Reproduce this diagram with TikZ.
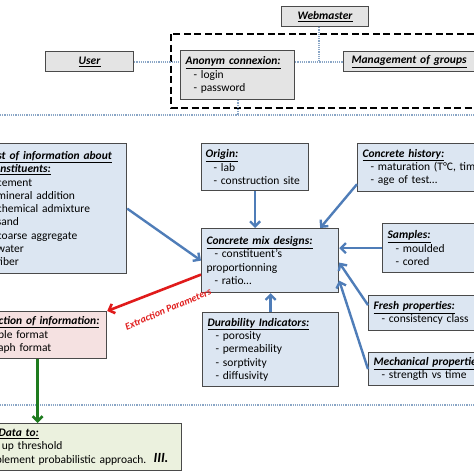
\documentclass[tikz,border=0pt]{standalone}
\usepackage{fontspec}
\setmainfont{Carlito}
\usepackage[svgnames, dvipsnames]{xcolor}
\usetikzlibrary{calc, arrows.meta}

\definecolor{BoxLine}{HTML}{4A4A4A}
\definecolor{GreyFill}{HTML}{E4E4E4}
\definecolor{BlueFill}{HTML}{DCE6F2}
\definecolor{PinkFill}{HTML}{F5E1E1}
\definecolor{GreenFill}{HTML}{EBF1DE}
\definecolor{LinkBlue}{HTML}{4F7DB8}
\definecolor{DotBlue}{HTML}{8AA6C6}
\definecolor{ExtractRed}{HTML}{E01B1B}
\definecolor{DataGreen}{HTML}{1E7B1E}

\newcommand{\boxhead}[1]{\underline{\textbf{\textit{#1}}}}
\newcommand{\lineitem}[1]{\hspace*{8pt}- #1}

\tikzset{
  box/.style={draw=BoxLine, line width=1.2pt, anchor=north west, inner xsep=5pt, inner ysep=2pt,
    align=left, font=\fontsize{11.5}{13.3}\selectfont},
  greybox/.style={box, fill=GreyFill},
  bluebox/.style={box, fill=BlueFill},
  link/.style={draw=LinkBlue, line width=2.4pt, -{Straight Barb[length=5pt, width=10pt]}},
  dotlink/.style={draw=DotBlue, line width=2pt, dash pattern=on 1.2pt off 1pt},
}

\begin{document}
\begin{tikzpicture}[x=1pt, y=-1pt]
    \useasboundingbox (0,0) rectangle (474,474);
    \clip (0,0) rectangle (474,474);
    % access part
    \draw[line width=1.6pt, dash pattern=on 7pt off 3.5pt] (171,34) rectangle (490,108);
    \node[greybox, align=center, text width=77pt, minimum height=20pt] (webmaster) at (281,6) {\boxhead{Webmaster}};
    \node[greybox, align=center, text width=78pt, minimum height=20pt] (user) at (45,51) {\boxhead{User}};
    \node[greybox, text width=104pt, minimum height=49pt] (anonym) at (180,50)
        {\boxhead{Anonym connexion:}\\ \lineitem{login}\\ \lineitem{password}};
    \node[greybox, align=center, text width=121pt, minimum height=20pt] (groups) at (343,51) {\boxhead{Management of groups}};
    \coordinate (railA1) at (0,115);
    \coordinate (railA2) at (474,115);
    \draw[dotlink] (user.east) -- (user.east -| anonym.west);
    \draw[dotlink] (anonym.east |- groups.west) -- (groups.west);
    \draw[dotlink] ([xshift=-6pt]webmaster.south) -- ([xshift=-6pt]webmaster.south |- groups.west);
    \draw[dotlink] (railA1) -- (railA2);
    \draw[dotlink] (anonym.south) -- (anonym.south |- railA1);
    % concrete data part
    \node[bluebox, text width=132pt, minimum height=130pt] (constit) at (-16,143)
        {\boxhead{List of information about}\\ \boxhead{constituents:}\\ - cement\\ - mineral addition\\
         - chemical admixture\\ - sand\\ - coarse aggregate\\ - water\\ - fiber};
    \node[bluebox, inner xsep=4pt, text width=99pt, minimum height=47pt] (origin) at (201,143)
        {\boxhead{Origin:}\\ \lineitem{lab}\\ \lineitem{construction site}};
    \node[bluebox, text width=140pt, minimum height=48pt] (history) at (357,143)
        {\boxhead{Concrete history:}\\ \lineitem{maturation (T°C, time)}\\ \lineitem{age of test…}};
    \node[bluebox, text width=127pt, minimum height=64pt] (mix) at (201,228)
        {\boxhead{Concrete mix designs:}\\ \lineitem{constituent’s}\\ proportionning\\ \lineitem{ratio…}};
    \node[bluebox, text width=100pt, minimum height=49pt] (samples) at (382,223)
        {\boxhead{Samples:}\\ \lineitem{moulded}\\ \lineitem{cored}};
    \node[bluebox, text width=126pt, minimum height=74pt] (durab) at (202,312)
        {\boxhead{Durability Indicators:}\\ \lineitem{porosity}\\ \lineitem{permeability}\\ \lineitem{sorptivity}\\ \lineitem{diffusivity}};
    \node[bluebox, text width=110pt, minimum height=35pt] (fresh) at (368,295)
        {\boxhead{Fresh properties:}\\ \lineitem{consistency class}};
    \node[bluebox, text width=125pt, minimum height=33pt] (mecha) at (368,352)
        {\boxhead{Mechanical properties:}\\ \lineitem{strength vs time}};
    \draw[link] (constit.east) -- (mix.west);
    \draw[link] (origin.south) -- (origin.south |- mix.north);
    \draw[link] ([yshift=8pt]history.south west) -- ([xshift=-19pt]mix.north east);
    \draw[link] (samples.west) -- (samples.west -| mix.east);
    \draw[link] ([yshift=8pt]fresh.west) -- ([yshift=-2pt]mix.east);
    \draw[link] (mecha.west) -- ([yshift=-20pt]mix.east);
    \draw[link] (durab.north) -- (durab.north |- mix.south);
    % extraction part
    \node[box, fill=PinkFill, text width=128pt, minimum height=47pt] (extract) at (-32,311)
        {\boxhead{Extraction of information:}\\ \lineitem{table format}\\ \lineitem{graph format}};
    \draw[draw=ExtractRed, line width=2.6pt, -{Straight Barb[length=5pt, width=10pt]}] ([yshift=-14pt]mix.west) -- (extract.north east);
    \node[text=ExtractRed, rotate=23, font=\fontsize{10}{11}\selectfont\bfseries\itshape] (param) at (168,309) {Extraction Parameters};
    \coordinate (railB1) at (0,405);
    \coordinate (railB2) at (474,405);
    \draw[dotlink] (railB1) -- (railB2);
    \node[box, fill=GreenFill, text width=200pt, minimum height=47pt] (data) at (-29,423)
        {\hspace*{22pt}\boxhead{Data to:}\\ - set up threshold\\ - implement probabilistic approach.};
    \node[font=\fontsize{14}{16}\selectfont\bfseries\itshape] (part) at (161,458) {III.};
    \draw[draw=DataGreen, line width=2.6pt, -{Straight Barb[length=5pt, width=10pt]}] (extract.south) -- (extract.south |- data.north);
\end{tikzpicture}
\end{document}
